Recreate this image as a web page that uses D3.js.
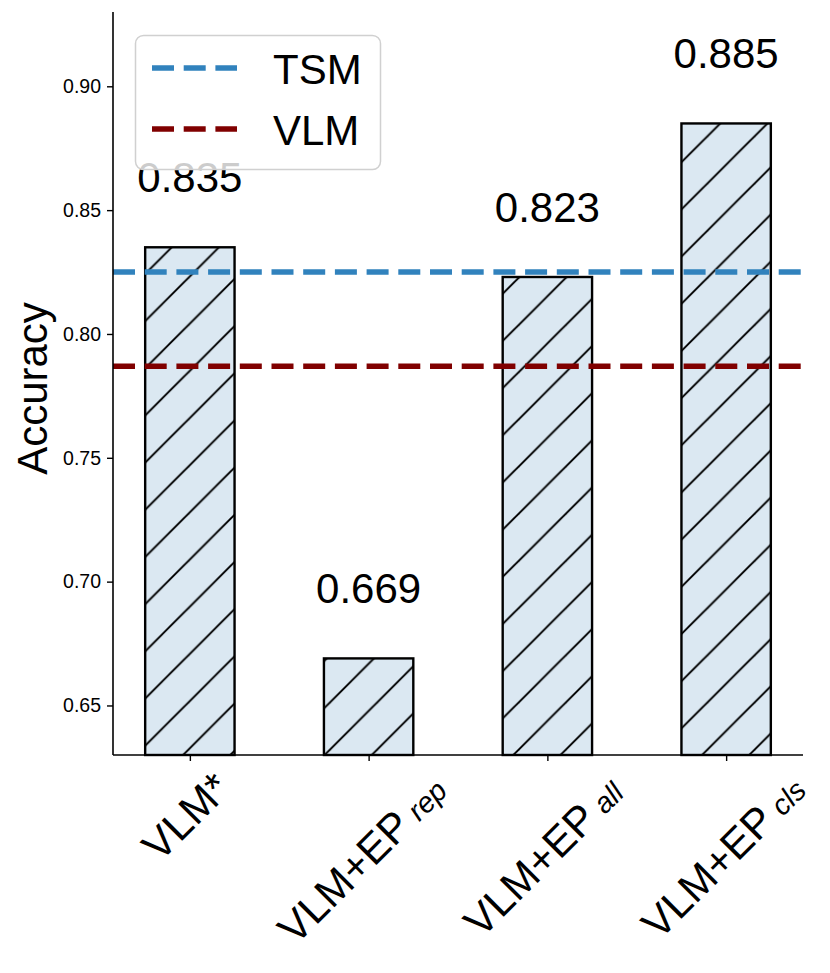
<!DOCTYPE html>
<html>
<head>
<meta charset="utf-8">
<script src="https://cdn.jsdelivr.net/npm/d3@7"></script>
<style>
  html, body { margin: 0; padding: 0; background: #fff; }
  svg { display: block; }
  text { font-family: "Liberation Sans", Arial, Helvetica, sans-serif; }
</style>
</head>
<body>
<svg id="chart" width="830" height="973"></svg>
<script>
// ---- data ----
const categories = ["VLM*", "VLM+EP", "VLM+EP", "VLM+EP"];
const categorySubs = ["", "rep", "all", "cls"];
const accuracy = [0.835, 0.669, 0.823, 0.885];
const valueLabels = ["0.835", "0.669", "0.823", "0.885"];
const refNames = ["TSM", "VLM"];
const refValues = [0.825, 0.787];
const yTicks = [0.65, 0.70, 0.75, 0.80, 0.85, 0.90];

// ---- layout ----
const mLeft = 113, mRight = 803, mTop = 12, mBottom = 755;
const refColors = ["#3182bd", "#800000"];
const barFill = "#dbe8f2";
const FONT = 42;

const svg = d3.select("#chart");

const x = d3.scaleLinear().domain([-0.43, 3.43]).range([mLeft, mRight]);
const y = d3.scaleLinear().domain([0.63, 0.93]).range([mBottom, mTop]);
const barW = x(0.5) - x(0);

// hatch pattern (userSpace, anchored to page)
const defs = svg.append("defs");
const P = 47.18, ph = 41.6;
const pat = defs.append("pattern")
  .attr("id", "hatch").attr("patternUnits", "userSpaceOnUse")
  .attr("width", P).attr("height", P);
pat.append("rect").attr("width", P).attr("height", P).attr("fill", barFill);
[ph - P, ph, ph + P].forEach(c => {
  pat.append("line")
    .attr("x1", -10).attr("y1", c + 10)
    .attr("x2", c + 10).attr("y2", -10)
    .attr("stroke", "#000").attr("stroke-width", 1.9);
});
defs.append("clipPath").attr("id", "plotclip")
  .append("rect").attr("x", mLeft).attr("y", mTop).attr("width", mRight - mLeft).attr("height", mBottom - mTop);

// bars
svg.append("g").selectAll("rect").data(accuracy).join("rect")
  .attr("x", (d, i) => x(i) - barW / 2)
  .attr("y", d => y(d))
  .attr("width", barW)
  .attr("height", d => y(0.63) - y(d))
  .attr("fill", "url(#hatch)")
  .attr("stroke", "#000").attr("stroke-width", 2.4);

// reference dashed lines
svg.append("g").attr("clip-path", "url(#plotclip)")
  .selectAll("line").data(refValues).join("line")
  .attr("x1", mLeft).attr("x2", mRight)
  .attr("y1", d => y(d)).attr("y2", d => y(d))
  .attr("stroke", (d, i) => refColors[i])
  .attr("stroke-width", 5.5)
  .attr("stroke-dasharray", "22,9.7");

// value labels
svg.append("g").selectAll("text").data(accuracy).join("text")
  .attr("x", (d, i) => x(i))
  .attr("y", d => y(d) - 55)
  .attr("text-anchor", "middle")
  .attr("font-size", FONT)
  .attr("fill", "#000")
  .text((d, i) => valueLabels[i]);

// axes
const yAxis = svg.append("g").attr("transform", `translate(${mLeft},0)`)
  .call(d3.axisLeft(y).tickValues(yTicks).tickFormat(d3.format(".2f")).tickSize(6).tickPadding(6));
const xAxis = svg.append("g").attr("transform", `translate(0,${mBottom})`)
  .call(d3.axisBottom(x).tickValues(d3.range(categories.length)).tickFormat("").tickSize(6));
[yAxis, xAxis].forEach(a => {
  a.select(".domain").attr("stroke", "#000").attr("stroke-width", 1.6);
  a.selectAll(".tick line").attr("stroke", "#000").attr("stroke-width", 1.4);
});
xAxis.select(".domain").attr("d", `M${mLeft},0H${mRight}`);
yAxis.select(".domain").attr("d", `M0,${mBottom}V${mTop}`);
yAxis.selectAll(".tick text")
  .attr("font-size", 19.5).attr("fill", "#000")
  .attr("font-family", "'Liberation Sans', Arial, sans-serif");

// x tick labels (rotated 45°), baseline start offset from tick
const labelStart = [[-30, 863], [-73, 946], [-66, 939], [-67, 941]];
const xl = svg.append("g");
categories.forEach((c, i) => {
  const t = xl.append("text")
    .attr("transform", `translate(${x(i) + labelStart[i][0]},${labelStart[i][1]}) rotate(-45)`)
    .attr("font-size", FONT).attr("fill", "#000");
  t.append("tspan").text(c);
  if (categorySubs[i]) {
    t.append("tspan").attr("dx", 8).attr("font-size", 29).attr("font-style", "italic").text(categorySubs[i]);
  }
});

// y axis label
svg.append("text")
  .attr("transform", `translate(47,${(mTop + mBottom) / 2 + 5}) rotate(-90)`)
  .attr("text-anchor", "middle")
  .attr("font-size", FONT).attr("fill", "#000")
  .text("Accuracy");

// legend
const lg = svg.append("g");
lg.append("rect")
  .attr("x", 135.5).attr("y", 35.5).attr("width", 245).attr("height", 134)
  .attr("rx", 8).attr("ry", 8)
  .attr("fill", "#fff").attr("fill-opacity", 0.8)
  .attr("stroke", "#d0d0d0").attr("stroke-width", 1.5);
refNames.forEach((n, i) => {
  const ly = 68 + i * 61;
  lg.append("line")
    .attr("x1", 152).attr("x2", 237).attr("y1", ly).attr("y2", ly)
    .attr("stroke", refColors[i]).attr("stroke-width", 5.5)
    .attr("stroke-dasharray", "22,9.7");
  lg.append("text")
    .attr("x", 273).attr("y", ly + 16)
    .attr("font-size", FONT).attr("fill", "#000")
    .text(n);
});
</script>
</body>
</html>
